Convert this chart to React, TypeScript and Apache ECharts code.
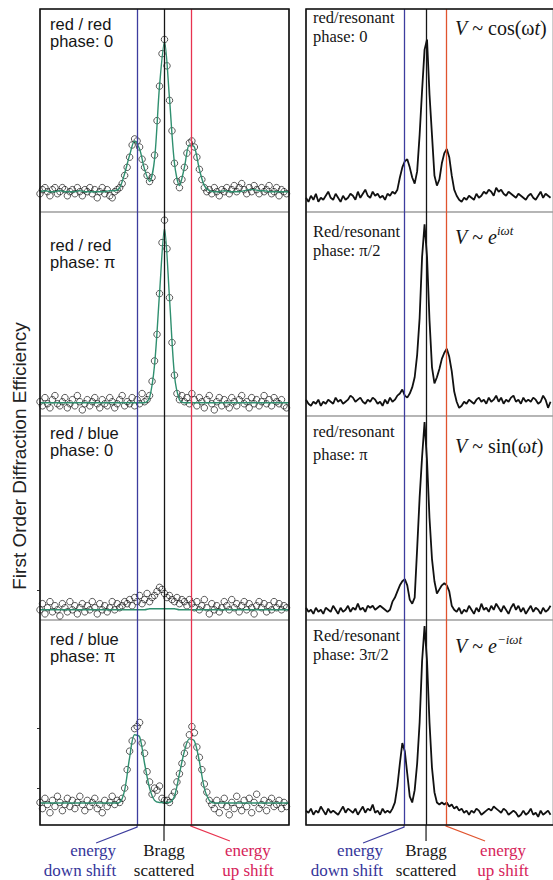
import React, { useEffect, useRef } from "react";
import * as echarts from "echarts";

// ---------- data (channel index 0..99, efficiency in panel units 0..100) ----------
const SCAN_RED_RED_0 = [
  9, 11, 12, 10, 8, 11, 12, 9, 10, 12, 11, 8, 10, 11, 9, 12, 10, 8, 11, 10, 12, 9, 11, 7, 10, 12, 9, 11, 8, 7, 10, 11, 12,
  14, 18, 22, 27, 33, 36, 35, 32, 26, 22, 18, 15, 17, 28, 45, 62, 78, 85, 72, 55, 40, 24, 15, 12, 16, 22, 29, 34, 35, 32, 27, 21, 16, 12, 10,
  11, 9, 12, 10, 8, 11, 10, 12, 9, 11, 13, 10, 12, 14, 11, 9, 12, 10, 13, 11, 9, 12, 10, 11, 13, 9, 10, 12, 8, 11, 10, 9,
];
const FIT_RED_RED_0 = [
  10, 10.5, 10, 10, 10.5, 10, 10, 10, 10.5, 10, 10, 10, 10, 10, 10.5, 10.5,
  12, 19, 28, 35, 31, 21, 15, 26, 62, 84, 56, 24, 13, 22, 33, 32, 21, 13, 10.5,
  10, 10, 10.5, 10, 10, 10, 10.5, 11, 11, 10.5, 10.5, 10, 10, 10, 10, 10,
];
const SCAN_RED_RED_PI = [
  7, 5, 9, 6, 4, 8, 10, 6, 5, 7, 9, 4, 6, 8, 5, 10, 7, 3, 6, 8, 5, 7, 9, 6, 4, 8, 6, 5, 9, 7, 4, 6, 8, 10, 5, 7, 6, 9, 5, 8, 6, 11, 7, 8,
  10, 17, 27, 40, 60, 85, 96, 82, 58, 36, 20, 11, 8,
  10, 7, 9, 6, 11, 8, 5, 9, 7, 4, 8, 10, 6, 3, 7, 9, 5, 8, 6, 4, 9, 7, 5, 8, 10, 6, 7, 4, 9, 6, 8, 5, 7, 10, 6, 8, 5, 9, 7, 6, 8, 5, 4,
];
const FIT_RED_RED_PI = [
  6.5, 6.5, 6.5, 6.5, 6.5, 6.5, 6.5, 6.5, 6.5, 6.5, 6.5, 6.5, 6.5, 6.5, 6.5, 6.5, 6.5, 6.5, 6.5, 6.5, 6.5, 6.5,
  9, 25, 60, 92, 58, 20, 8,
  6.5, 6.5, 6.5, 6.5, 6.5, 6.5, 6.5, 6.5, 6.5, 6.5, 6.5, 6.5, 6.5, 6.5, 6.5, 6.5, 6.5, 6.5, 6.5, 6.5, 6.5, 6.5,
];
const SCAN_RED_BLUE_0 = [
  5, 8, 3, 6, 9, 4, 7, 5, 2, 8, 6, 4, 9, 5, 7, 3, 6, 8, 4, 7, 5, 9, 6, 3, 8, 5, 7, 4, 6, 9, 5, 8, 6, 7, 9, 8,
  10, 7, 11, 9, 12, 8, 10, 13, 9, 11, 12, 14, 16, 15, 13, 11, 12, 10, 9, 11, 8, 10, 9, 7, 10,
  8, 6, 9, 5, 7, 10, 6, 3, 8, 5, 7, 4, 6, 9, 7, 5, 10, 6, 8, 4, 7, 9, 5, 8, 6, 3, 7, 9, 6, 8, 4, 7, 5, 9, 6, 8, 5, 7, 6,
];
const FIT_RED_BLUE_0 = [
  5, 5, 5, 5, 5, 5, 5, 5, 5, 5, 5, 5, 5, 5, 5, 5, 5, 5, 5, 5, 5, 5,
  5.5, 5.5, 5.5, 5.5, 5.5, 5.5,
  5, 5, 5, 5, 5, 5, 5, 5, 5, 5, 5, 5, 5, 5, 5, 5, 5, 5, 5, 5, 5, 5, 5,
];
const SCAN_RED_BLUE_PI = [
  11, 8, 13, 10, 6, 12, 9, 14, 11, 7, 10, 13, 9, 12, 8, 11, 14, 10, 7, 12, 9, 11, 13, 8, 10, 6, 12, 9, 11, 14, 10, 12,
  11, 13, 18, 27, 36, 41, 47, 48, 50, 40, 35, 26, 21, 15, 18, 17, 19, 13, 12, 12, 11, 14, 16, 21, 25, 30, 35, 39, 44, 48, 45, 38, 33, 27, 20, 16, 12, 10,
  8, 12, 6, 10, 13, 9, 5, 11, 8, 14, 10, 7, 12, 9, 13, 6, 11, 15, 8, 10, 12, 7, 11, 13, 9, 10, 12, 8, 11, 9,
];
const FIT_RED_BLUE_PI = [
  10.7, 10.7, 10.7, 10.7, 10.7, 10.7, 10.7, 10.7, 10.7, 10.7, 10.7, 10.7, 10.7, 10.7, 10.7, 10.7,
  11, 17, 33, 44, 43, 30, 18, 12, 11, 11, 11, 14, 25, 36, 42, 41, 31, 18, 12,
  10.7, 10.7, 10.7, 10.7, 10.7, 10.7, 10.7, 10.7, 10.7, 10.7, 10.7, 10.7, 10.7, 10.7, 10.7, 10.7,
];

const LINE_RESONANT_0 = [
  7, 5, 8, 6, 9, 5, 7, 6, 8, 10, 7, 6, 9, 7, 5, 8, 6, 7, 9, 8, 6, 10, 7, 9, 11, 8, 7, 10, 8, 9, 7, 8, 6, 9, 8, 10, 9,
  11, 17, 22, 25, 26, 22, 17, 14, 20, 38, 60, 80, 85, 58, 38, 18, 13, 16, 24, 29, 31, 27, 18, 11, 8,
  6, 5, 7, 6, 8, 7, 6, 9, 7, 8, 10, 9, 11, 10, 8, 12, 10, 11, 9, 8, 10, 9, 8, 7, 9, 8, 7, 6, 8, 9, 7, 6, 8, 10, 7, 9, 8, 7,
];
const LINE_RESONANT_PI2 = [
  8, 6, 5, 7, 6, 8, 5, 7, 6, 8, 7, 6, 9, 7, 8, 6, 7, 8, 10, 9, 7, 8, 9, 7, 6, 8, 7, 9, 8, 6, 7, 5, 8, 6, 9, 7, 8, 10,
  11, 13, 10, 9, 11, 14, 19, 30, 48, 78, 94, 78, 47, 24, 16, 19, 23, 28, 31, 33, 29, 22, 12, 7, 4,
  5, 7, 6, 8, 7, 6, 8, 9, 7, 8, 6, 9, 7, 8, 10, 7, 9, 6, 8, 7, 9, 10, 7, 8, 6, 9, 7, 8, 7, 9, 8, 6, 7, 10, 8, 4, 7,
];
const LINE_RESONANT_PI = [
  6, 4, 5, 3, 6, 4, 5, 3, 6, 5, 4, 7, 5, 3, 6, 4, 5, 7, 4, 6, 5, 8, 5, 6, 4, 7, 6, 7, 5, 6, 7, 6, 5, 4, 5,
  9, 11, 14, 17, 19, 20, 17, 10, 8, 11, 35, 60, 80, 97, 78, 50, 30, 19, 13, 15, 17, 18, 17, 14, 7, 5,
  4, 6, 3, 5, 4, 7, 5, 3, 6, 4, 8, 5, 6, 4, 7, 5, 8, 6, 4, 7, 5, 3, 6, 8, 5, 7, 4, 6, 3, 5, 7, 4, 6, 5, 3, 6, 4, 5, 7,
];
const LINE_RESONANT_3PI2 = [
  7, 6, 8, 5, 7, 6, 9, 7, 5, 8, 6, 7, 6, 5, 7, 9, 6, 8, 7, 6, 8, 5, 7, 9, 6, 8, 7, 10, 6, 7, 5, 8, 6, 7, 6,
  8, 11, 19, 30, 40, 36, 25, 14, 11, 17, 30, 50, 80, 97, 80, 50, 28, 16, 11, 10, 11, 10, 11, 9, 10,
  8, 9, 7, 8, 6, 7, 5, 7, 6, 8, 7, 5, 6, 7, 8, 7, 9, 8, 7, 6, 8, 7, 5, 6, 7, 6, 4, 5, 7, 5, 6, 8, 5, 6, 4, 7, 5, 6, 7, 5,
];

// channel positions of: energy down shift, Bragg scattered, energy up shift
const LEFT_SHIFT_LINES = [39, 49.8, 60.6];
const RIGHT_SHIFT_LINES = [39.7, 48.6, 56.7];
// small y ticks on the left frame (per left panel)
const LEFT_Y_TICKS = [[], [], [14.7], [18, 47.3]];

const LEFT_TITLES = [
  ["red / red", "phase: 0"],
  ["red / red", "phase: π"],
  ["red / blue", "phase: 0"],
  ["red / blue", "phase: π"],
];
const RIGHT_TITLES = [
  ["red/resonant", "phase: 0"],
  ["Red/resonant", "phase: π/2"],
  ["red/resonant", "phase: π"],
  ["Red/resonant", "phase: 3π/2"],
];
const FORMULAS = [
  "{i|V} ~ cos(ω{i|t})",
  "{i|V} ~ {i|e}{sup|iωt}",
  "{i|V} ~ sin(ω{i|t})",
  "{i|V} ~ {i|e}{sup|−iωt}",
];
const SHIFT_LABELS = [
  ["energy", "down shift"],
  ["Bragg", "scattered"],
  ["energy", "up shift"],
];
const Y_TITLE = "First Order Diffraction Efficiency";

// ---------- styling / layout ----------
const SANS = "'Liberation Sans', Arial, Helvetica, sans-serif";
const SERIF = "'Liberation Serif', 'Times New Roman', Times, serif";
const PANEL_TOPS = [9, 212, 416, 620];
const PANEL_HEIGHTS = [203, 204, 204, 205];
const LEFT_COL = { left: 40, width: 249 };
const RIGHT_COL = { left: 306, width: 247 };
const LEFT_LINE_COLORS = ["#3d3d9e", "#161616", "#e8334f"];
const RIGHT_LINE_COLORS = ["#3d3d9e", "#161616", "#e0542e"];
const LABEL_COLORS = ["#35359a", "#161616", "#d6245a"];
const FIT_COLOR = "#2f8f6f";

export default function App() {
  const ref = useRef<HTMLDivElement>(null);

  useEffect(() => {
    if (!ref.current) return;
    const chart = echarts.init(ref.current, null, { renderer: "svg" });

    const grids: any[] = [];
    const xAxes: any[] = [];
    const yAxes: any[] = [];
    const series: any[] = [];

    for (let i = 0; i < 8; i++) {
      const col = i < 4 ? LEFT_COL : RIGHT_COL;
      const p = i % 4;
      grids.push({
        left: col.left,
        width: col.width,
        top: PANEL_TOPS[p],
        height: PANEL_HEIGHTS[p],
        show: true,
        borderColor: "#9d9d9d",
        borderWidth: 1,
        backgroundColor: "transparent",
      });
      xAxes.push({ type: "value", gridIndex: i, min: 0, max: 100, show: false });
      const ticks = i < 4 ? LEFT_Y_TICKS[p] : [];
      yAxes.push({
        type: "value",
        gridIndex: i,
        min: 0,
        max: 100,
        show: ticks.length > 0,
        axisLine: { show: false },
        axisLabel: { show: false },
        splitLine: { show: false },
        axisTick: { show: ticks.length > 0, length: 3, customValues: ticks, lineStyle: { color: "#333", width: 1 } },
      });
    }

    const markLineFor = (xs: number[], colors: string[]) => ({
      silent: true,
      symbol: ["none", "none"],
      label: { show: false },
      lineStyle: { type: "solid", width: 1.3 },
      emphasis: { disabled: true },
      data: xs.map((x, k) => ({
        xAxis: x,
        lineStyle: { color: colors[k], width: 1.3, type: "solid" },
      })),
    });

    const scans = [SCAN_RED_RED_0, SCAN_RED_RED_PI, SCAN_RED_BLUE_0, SCAN_RED_BLUE_PI];
    const fits = [FIT_RED_RED_0, FIT_RED_RED_PI, FIT_RED_BLUE_0, FIT_RED_BLUE_PI];
    const lines = [LINE_RESONANT_0, LINE_RESONANT_PI2, LINE_RESONANT_PI, LINE_RESONANT_3PI2];

    for (let p = 0; p < 4; p++) {
      series.push({
        type: "scatter",
        xAxisIndex: p,
        yAxisIndex: p,
        silent: true,
        symbol: "circle",
        symbolSize: 6.5,
        itemStyle: { color: "rgba(0,0,0,0)", borderColor: "#1a1a1a", borderWidth: 0.9 },
        data: scans[p].map((v, k) => [k, v]),
        z: 3,
      });
      series.push({
        type: "line",
        xAxisIndex: p,
        yAxisIndex: p,
        silent: true,
        showSymbol: false,
        smooth: 0.3,
        lineStyle: { color: FIT_COLOR, width: 1.4 },
        data: fits[p].map((v, k) => [k * 2, v]),
        markLine: markLineFor(LEFT_SHIFT_LINES, LEFT_LINE_COLORS),
        z: 4,
      });
      series.push({
        type: "line",
        xAxisIndex: 4 + p,
        yAxisIndex: 4 + p,
        silent: true,
        showSymbol: false,
        lineStyle: { color: "#111", width: 1.8 },
        data: lines[p].map((v, k) => [k, v]),
        markLine: markLineFor(RIGHT_SHIFT_LINES, RIGHT_LINE_COLORS),
        z: 3,
      });
    }

    chart.setOption({
      animation: false,
      backgroundColor: "#ffffff",
      grid: grids,
      xAxis: xAxes,
      yAxis: yAxes,
      series,
    });

    // ---------- annotations ----------
    const px = (axis: number, v: number) => chart.convertToPixel({ xAxisIndex: axis }, v) as number;
    const graphics: any[] = [];
    const boxBottom = PANEL_TOPS[3] + PANEL_HEIGHTS[3];

    // column frames
    graphics.push({
      type: "rect",
      z: 50,
      shape: { x: LEFT_COL.left, y: PANEL_TOPS[0], width: LEFT_COL.width, height: boxBottom - PANEL_TOPS[0] },
      style: { fill: "none", stroke: "#111", lineWidth: 1.6 },
    });
    graphics.push({
      type: "rect",
      z: 50,
      shape: { x: RIGHT_COL.left, y: PANEL_TOPS[0], width: RIGHT_COL.width + 10, height: boxBottom - PANEL_TOPS[0] },
      style: { fill: "none", stroke: "#111", lineWidth: 1.6 },
    });

    const text = (x: number, y: number, t: string, o: any = {}) => ({
      type: "text",
      x,
      y,
      z: 60,
      rotation: o.rotation || 0,
      style: {
        text: t,
        fontSize: o.fontSize || 16.5,
        fontFamily: o.fontFamily || SANS,
        fontStyle: o.fontStyle || "normal",
        lineHeight: o.lineHeight,
        fill: o.fill || "#151515",
        textAlign: o.align || "left",
        verticalAlign: "middle",
        textVerticalAlign: "middle",
        rich: o.rich,
      },
    });

    // left panel labels (centre y of each line)
    const leftLabelY = [[24, 41], [245, 262], [433, 450], [639, 656]];
    LEFT_TITLES.forEach((t, p) => {
      graphics.push(text(50, leftLabelY[p][0], t[0]));
      graphics.push(text(50, leftLabelY[p][1], t[1]));
    });
    // right panel labels
    const rightLabelY = [[17, 36], [231, 250], [431, 454], [635, 654]];
    RIGHT_TITLES.forEach((t, p) => {
      graphics.push(text(313, rightLabelY[p][0], t[0], { fontFamily: SERIF }));
      graphics.push(text(313, rightLabelY[p][1], t[1], { fontFamily: SERIF }));
    });

    // formulas
    const rich = {
      i: { fontStyle: "italic", fontSize: 20, fontFamily: SERIF, fill: "#151515", lineHeight: 26 },
      sup: { fontStyle: "italic", fontSize: 13, fontFamily: SERIF, fill: "#151515", lineHeight: 13, verticalAlign: "top" },
    };
    const formulaY = [28, 237, 446, 646];
    FORMULAS.forEach((f, p) => {
      graphics.push(text(455, formulaY[p], f, { fontFamily: SERIF, fontSize: 20, lineHeight: 26, rich }));
    });

    // y title
    graphics.push(text(19, 456, Y_TITLE, { fontSize: 19, align: "center", rotation: Math.PI / 2, fill: "#222" }));

    // connectors and shift labels under each column
    const cols = [
      { axis: 3, xs: LEFT_SHIFT_LINES, colors: LEFT_LINE_COLORS },
      { axis: 7, xs: RIGHT_SHIFT_LINES, colors: RIGHT_LINE_COLORS },
    ];
    cols.forEach((c) => {
      const [bx, gx, rx] = c.xs.map((v) => px(c.axis, v));
      graphics.push({
        type: "polyline", z: 40,
        shape: { points: [[bx, boxBottom], [bx, boxBottom + 2], [bx - 41, boxBottom + 18]] },
        style: { stroke: c.colors[0], lineWidth: 1.2, fill: "none" },
      });
      graphics.push({
        type: "line", z: 40,
        shape: { x1: gx, y1: boxBottom, x2: gx, y2: boxBottom + 16 },
        style: { stroke: c.colors[1], lineWidth: 1.2 },
      });
      graphics.push({
        type: "polyline", z: 40,
        shape: { points: [[rx, boxBottom], [rx, boxBottom + 1], [rx + 39, boxBottom + 16]] },
        style: { stroke: c.colors[2], lineWidth: 1.2, fill: "none" },
      });
      const o = { fontFamily: SERIF, fontSize: 17 };
      const y1 = 850;
      const y2 = 870;
      graphics.push(text(bx - 21, y1, SHIFT_LABELS[0][0], { ...o, fill: LABEL_COLORS[0], align: "right" }));
      graphics.push(text(bx - 21, y2, SHIFT_LABELS[0][1], { ...o, fill: LABEL_COLORS[0], align: "right" }));
      graphics.push(text(gx, y1, SHIFT_LABELS[1][0], { ...o, fill: LABEL_COLORS[1], align: "center" }));
      graphics.push(text(gx, y2, SHIFT_LABELS[1][1], { ...o, fill: LABEL_COLORS[1], align: "center" }));
      graphics.push(text(rx + 57, y1, SHIFT_LABELS[2][0], { ...o, fill: LABEL_COLORS[2], align: "center" }));
      graphics.push(text(rx + 57, y2, SHIFT_LABELS[2][1], { ...o, fill: LABEL_COLORS[2], align: "center" }));
    });

    chart.setOption({ graphic: graphics });

    return () => chart.dispose();
  }, []);

  return (
    <div
      ref={ref}
      style={{ position: "fixed", left: 0, top: 0, width: 553, height: 880, background: "#fff" }}
    />
  );
}
